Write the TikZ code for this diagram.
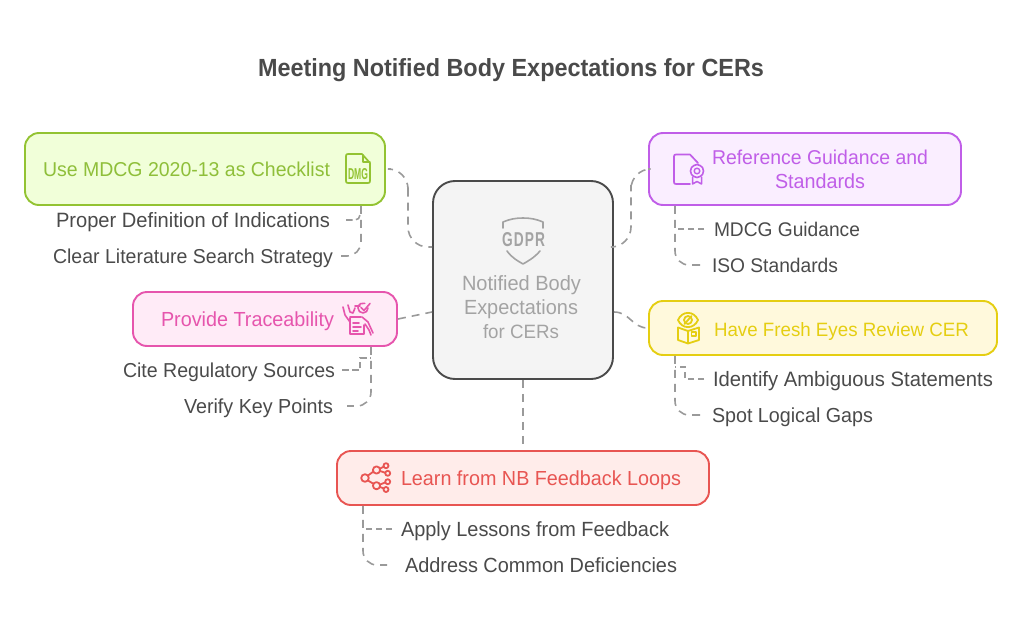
\documentclass[tikz,border=0pt]{standalone}
\usepackage{fontspec}
\setmainfont{Liberation Sans}
\usetikzlibrary{calc}
\definecolor{gbd}{HTML}{93C332}\definecolor{gfl}{HTML}{F1FFD9}\definecolor{gtx}{HTML}{8FBF3A}
\definecolor{pbd}{HTML}{E655AD}\definecolor{pfl}{HTML}{FFEBF7}
\definecolor{vbd}{HTML}{C05EE8}\definecolor{vfl}{HTML}{FAEEFF}
\definecolor{ybd}{HTML}{E5CE12}\definecolor{yfl}{HTML}{FFF9DC}
\definecolor{rbd}{HTML}{E85552}\definecolor{rfl}{HTML}{FFECEA}
\definecolor{ink}{HTML}{4A4A4A}\definecolor{mut}{HTML}{A3A3A3}\definecolor{cfl}{HTML}{F4F4F4}\definecolor{dsh}{HTML}{9A9A9A}
\tikzset{
 boxnode/.style={draw,line width=1.9pt,rounded corners=14pt,inner sep=0pt},
 lab/.style={inner sep=0pt,outer sep=0pt,anchor=base west,font=\fontsize{20}{24}\selectfont},
 conn/.style={draw=dsh,line width=1.6pt,dash pattern=on 8pt off 6pt},
 branch/.style={draw=dsh,line width=1.6pt,dash pattern=on 6.5pt off 3.5pt},
 icon/.style={line width=1.7pt,line cap=round,line join=round}
}
\newcommand\lbl[6]{\node[lab,text=#5] (#1) at (#2,#3) {\scalebox{1}[1.03]{\resizebox{#4pt}{!}{#6}}};}
\begin{document}
\begin{tikzpicture}[x=1pt,y=-1pt]
\useasboundingbox (0,0) rectangle (1022,626);
% boxes
\node[boxnode,draw=gbd,fill=gfl,minimum width=360pt,minimum height=72pt] (green) at (205,169) {};
\node[boxnode,draw=pbd,fill=pfl,minimum width=264pt,minimum height=54pt] (pink) at (265,319) {};
\node[boxnode,draw=vbd,fill=vfl,minimum width=312pt,minimum height=72pt] (purple) at (805,169) {};
\node[boxnode,draw=ybd,fill=yfl,minimum width=348pt,minimum height=54pt] (yellow) at (823,328) {};
\node[boxnode,draw=rbd,fill=rfl,minimum width=372pt,minimum height=54pt] (red) at (523,478) {};
\node[boxnode,draw=ink,fill=cfl,rounded corners=22pt,minimum width=180pt,minimum height=198pt] (ctr) at (523,280) {};
% texts
\node[inner sep=0pt,anchor=base,text=ink,font=\bfseries\fontsize{24}{28}\selectfont] (title) at (511,76) {\scalebox{1}[1.06]{\resizebox{506pt}{!}{Meeting Notified Body Expectations for CERs}}};
\lbl{t1}{43}{176}{287}{gtx}{Use MDCG 2020-13 as Checklist}
\lbl{t2}{161}{326}{173}{pbd}{Provide Traceability}
\lbl{t3}{712}{164}{216}{vbd}{Reference Guidance and}
\lbl{t3b}{775}{188}{90}{vbd}{Standards}
\lbl{t4}{714}{336}{255}{ybd}{Have Fresh Eyes Review CER}
\lbl{t5}{401}{485}{280}{rbd}{Learn from NB Feedback Loops}
\lbl{c1}{462}{290}{119}{mut}{Notified Body}
\lbl{c2}{464}{314}{114}{mut}{Expectations}
\lbl{c3}{483}{338}{76}{mut}{for CERs}
\lbl{a1}{56}{227}{274}{ink}{Proper Definition of Indications}
\lbl{a2}{53}{263}{280}{ink}{Clear Literature Search Strategy}
\lbl{b1}{123}{377}{212}{ink}{Cite Regulatory Sources}
\lbl{b2}{184}{413}{149}{ink}{Verify Key Points}
\lbl{d1}{714}{236}{146}{ink}{MDCG Guidance}
\lbl{d2}{712}{272}{126}{ink}{ISO Standards}
\lbl{e1}{713}{386}{280}{ink}{Identify Ambiguous Statements}
\lbl{e2}{712}{422}{161}{ink}{Spot Logical Gaps}
\lbl{f1}{401}{536}{268}{ink}{Apply Lessons from Feedback}
\lbl{f2}{405}{572}{272}{ink}{Address Common Deficiencies}
% connectors to centre
\coordinate (gm) at (408,205);
\coordinate (vm) at (631,205);
\draw[conn,rounded corners=20pt] ([xshift=5pt]green.east) -| (gm) |- ([yshift=33pt]ctr.west);
\draw[conn,rounded corners=20pt] ([yshift=33pt]ctr.east) -| (vm) |- (purple.west);
\draw[conn] (pink.east) -- ([yshift=-32pt]ctr.west);
\draw[conn] ([yshift=-32pt]ctr.east) .. controls (630,312) and (632,328) .. (yellow.west);
\draw[conn] (ctr.south) -- ([yshift=6pt]red.north);
% child connectors (free ends are named)
\coordinate (ga) at (360,212);
\coordinate (ge) at (346,220);
\coordinate (gt) at (341,256);
\coordinate (pa) at (371,358);
\coordinate (pb) at (360,358);
\coordinate (pc) at (360,370);
\coordinate (pe) at (342,370);
\coordinate (pt) at (347,406);
\coordinate (va) at (675,229);
\coordinate (ve) at (704,229);
\coordinate (vt) at (700,265);
\coordinate (ya) at (675,367);
\coordinate (yb) at (685,367);
\coordinate (yc) at (685,379);
\coordinate (ye) at (704,379);
\coordinate (yt) at (700,415);
\coordinate (ra) at (363,529);
\coordinate (re) at (392,529);
\coordinate (rt) at (387,565);
\draw[conn,rounded corners=14pt] ([xshift=156pt]green.south) |- (gt);
\draw[branch,rounded corners=5pt] (ge) -| (ga);
\draw[conn,rounded corners=14pt] ([xshift=106pt]pink.south) |- (pt);
\draw[branch] (pe) -- (pc) -- (pb) -- (pa);
\draw[conn,rounded corners=14pt] ([xshift=-130pt]purple.south) |- (vt);
\draw[branch] (ve) -- (va);
\draw[conn,rounded corners=14pt] ([xshift=-148pt]yellow.south) |- (yt);
\draw[branch] (ye) -- (yc) -- (yb) -- (ya);
\draw[conn,rounded corners=14pt] ([xshift=-160pt]red.south) |- (rt);
\draw[branch] (re) -- (ra);
% DMG icon
\draw[icon,draw=gbd] (359,154) -- (348,154) .. controls (346.5,154) and (346,154.5) .. (346,156) -- (346,181) .. controls (346,182.5) and (346.5,183) .. (348,183) -- (368,183) .. controls (369.5,183) and (370,182.5) .. (370,181) -- (370,163) -- (362,154) -- cycle;
\draw[icon,draw=gbd,line width=1.2pt] (363,155) -- (363,162) -- (370,162);
\node[inner sep=0pt,text=gbd,font=\bfseries\fontsize{10}{10}\selectfont] (dmg) at (358,174) {\resizebox{20pt}{11pt}{DMG}};
% certificate icon
\draw[icon,draw=vbd] (698,163) -- (690,154.5) -- (676,154.5) .. controls (674.5,154.5) and (674,155) .. (674,156.5) -- (674,182) .. controls (674,183.5) and (674.5,184) .. (676,184) -- (690,184);
\draw[icon,draw=vbd,fill=vfl,line width=1.6pt] (697,164.5) -- (700,165.5) -- (702.5,167.5) -- (703.5,171) -- (702.5,174.5) -- (700,176.5) -- (697,177.5) -- (694,176.5) -- (691.5,174.5) -- (690.5,171) -- (691.5,167.5) -- (694,165.5) -- cycle;
\draw[draw=vbd,line width=1.4pt] (697,171) circle (2.8pt);
\draw[icon,draw=vbd,line width=1.5pt] (692.5,177) -- (692.5,184) -- (697,181.5) -- (701.5,184) -- (701.5,177);
% traceability icon
\begin{scope}[icon,draw=pbd,line width=1.6pt]
\draw (350,318) -- (350,334) -- (364,334) -- (364,325);
\draw (350,317) -- (361,317);
\draw (353,323) -- (359,323);
\draw (353,327) -- (361,327);
\draw (353,331) -- (358,331);
\draw (343,307) -- (345,315) -- (350,322);
\draw (348,305) -- (350,312) -- (353,313) -- (355,308);
\draw (355,306) -- (360,306);
\draw (362,317) -- (368,322) -- (373,333);
\draw (365,324) -- (369,330) -- (371,335);
\draw (368,308) arc (0:-290:5pt);
\draw (361,307.5) -- (364,310.5) -- (370,303.5);
\end{scope}
% eye & book icon
\begin{scope}[icon,draw=ybd,line width=1.8pt]
\draw (678,320) .. controls (682,310.5) and (694,310.5) .. (698,320) .. controls (694,329.5) and (682,329.5) .. (678,320) -- cycle;
\draw (688,320) circle (4pt);
\draw (684.5,324) -- (691.5,316);
\draw (688,331) -- (678,327.5) -- (678,340) -- (688,343.5) -- (699,340) -- (699,327.5) -- cycle;
\draw (688,331) -- (688,343);
\draw[line width=1.3pt] (691.5,332) rectangle (696,336);
\end{scope}
% feedback tree icon
\begin{scope}[icon,draw=rbd,line width=1.8pt]
\draw (365,478) circle (3.8pt);
\draw (376.5,470) circle (3.6pt);
\draw (376.5,485.7) circle (3.6pt);
\draw (386,465.7) circle (2.5pt);
\draw (387.7,473.3) circle (2.5pt);
\draw (387.7,481.7) circle (2.5pt);
\draw (386,489.5) circle (2.5pt);
\draw (368,475.5) -- (373.5,471.5);
\draw (368,480.5) -- (373,483.5);
\draw (380,468.5) -- (384,466.5);
\draw (380,471) -- (385.2,472.7);
\draw (380,484.5) -- (385.2,482.5);
\draw (380,487) -- (384,488.5);
\end{scope}
% GDPR icon
\draw[icon,draw=mut,line width=1.6pt] (503,228) -- (503,222) .. controls (510,219) and (516,218) .. (523,218) .. controls (530,218) and (536,219) .. (543,222) -- (543,228);
\draw[icon,draw=mut,line width=1.6pt] (507,251) .. controls (512,258) and (518,261) .. (523,264) .. controls (528,261) and (534,258) .. (540,251);
\node[inner sep=0pt,text=mut,font=\bfseries\fontsize{15}{15}\selectfont] (gdpr) at (523.5,240) {\resizebox{43pt}{14pt}{\addfontfeature{LetterSpace=8}GDPR}};
\end{tikzpicture}
\end{document}
